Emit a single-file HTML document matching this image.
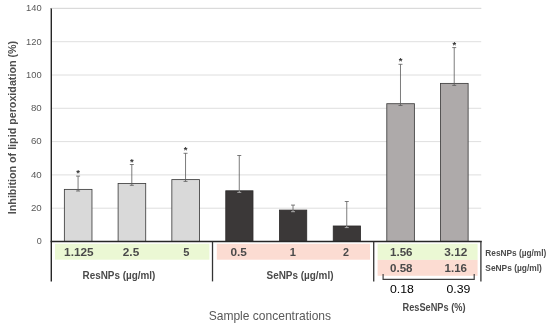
<!DOCTYPE html>
<html><head><meta charset="utf-8"><title>Inhibition of lipid peroxidation</title>
<style>
html,body{margin:0;padding:0;background:#fff;}
body{width:550px;height:329px;overflow:hidden;}
svg{display:block;font-family:"Liberation Sans",sans-serif;}
</style></head><body>
<svg width="550" height="329" viewBox="0 0 550 329">
<rect width="550" height="329" fill="#ffffff"/>

<line x1="51.3" y1="208.20" x2="481.2" y2="208.20" stroke="#d6d6d6" stroke-width="0.8"/>
<line x1="51.3" y1="174.90" x2="481.2" y2="174.90" stroke="#d6d6d6" stroke-width="0.8"/>
<line x1="51.3" y1="141.60" x2="481.2" y2="141.60" stroke="#d6d6d6" stroke-width="0.8"/>
<line x1="51.3" y1="108.30" x2="481.2" y2="108.30" stroke="#d6d6d6" stroke-width="0.8"/>
<line x1="51.3" y1="75.00" x2="481.2" y2="75.00" stroke="#d6d6d6" stroke-width="0.8"/>
<line x1="51.3" y1="41.70" x2="481.2" y2="41.70" stroke="#d6d6d6" stroke-width="0.8"/>
<line x1="51.3" y1="8.40" x2="481.2" y2="8.40" stroke="#d6d6d6" stroke-width="0.8"/>
<rect x="55.0" y="243.8" width="154.4" height="15.9" fill="#ebf8d4"/>
<rect x="216.8" y="243.8" width="153.2" height="15.9" fill="#fcdcd2"/>
<rect x="377.6" y="243.8" width="100" height="16.1" fill="#ebf8d4"/>
<rect x="377.6" y="259.9" width="100" height="15.9" fill="#fcdcd2"/>
<rect x="64.37" y="189.40" width="27.6" height="52.10" fill="#d9d9d9" stroke="#3f3f3f" stroke-width="0.85"/>
<line x1="78.07" y1="176.10" x2="78.07" y2="189.40" stroke="#5a5a5a" stroke-width="0.8"/>
<line x1="78.07" y1="189.40" x2="78.07" y2="191.00" stroke="#5a5a5a" stroke-width="0.8"/>
<line x1="76.07" y1="176.10" x2="80.07" y2="176.10" stroke="#5a5a5a" stroke-width="0.8"/>
<line x1="76.07" y1="191.00" x2="80.07" y2="191.00" stroke="#5a5a5a" stroke-width="0.8"/>
<text x="78.07" y="176.20" font-size="9.5" font-weight="bold" fill="#333" text-anchor="middle">*</text>
<rect x="118.11" y="183.50" width="27.6" height="58.00" fill="#d9d9d9" stroke="#3f3f3f" stroke-width="0.85"/>
<line x1="131.81" y1="164.50" x2="131.81" y2="183.50" stroke="#5a5a5a" stroke-width="0.8"/>
<line x1="131.81" y1="183.50" x2="131.81" y2="185.30" stroke="#5a5a5a" stroke-width="0.8"/>
<line x1="129.81" y1="164.50" x2="133.81" y2="164.50" stroke="#5a5a5a" stroke-width="0.8"/>
<line x1="129.81" y1="185.30" x2="133.81" y2="185.30" stroke="#5a5a5a" stroke-width="0.8"/>
<text x="131.81" y="164.60" font-size="9.5" font-weight="bold" fill="#333" text-anchor="middle">*</text>
<rect x="171.84" y="179.60" width="27.6" height="61.90" fill="#d9d9d9" stroke="#3f3f3f" stroke-width="0.85"/>
<line x1="185.54" y1="153.30" x2="185.54" y2="179.60" stroke="#5a5a5a" stroke-width="0.8"/>
<line x1="185.54" y1="179.60" x2="185.54" y2="181.40" stroke="#5a5a5a" stroke-width="0.8"/>
<line x1="183.54" y1="153.30" x2="187.54" y2="153.30" stroke="#5a5a5a" stroke-width="0.8"/>
<line x1="183.54" y1="181.40" x2="187.54" y2="181.40" stroke="#5a5a5a" stroke-width="0.8"/>
<text x="185.54" y="152.90" font-size="9.5" font-weight="bold" fill="#333" text-anchor="middle">*</text>
<rect x="225.78" y="190.80" width="27.2" height="50.70" fill="#3b3838" stroke="#2e2c2c" stroke-width="0.85"/>
<line x1="239.28" y1="155.50" x2="239.28" y2="190.80" stroke="#5a5a5a" stroke-width="0.8"/>
<line x1="239.28" y1="190.80" x2="239.28" y2="192.40" stroke="#bfbfbf" stroke-width="0.8"/>
<line x1="237.28" y1="155.50" x2="241.28" y2="155.50" stroke="#5a5a5a" stroke-width="0.8"/>
<line x1="237.28" y1="192.40" x2="241.28" y2="192.40" stroke="#bfbfbf" stroke-width="0.8"/>
<rect x="279.52" y="210.10" width="27.2" height="31.40" fill="#3b3838" stroke="#2e2c2c" stroke-width="0.85"/>
<line x1="293.02" y1="205.10" x2="293.02" y2="210.10" stroke="#5a5a5a" stroke-width="0.8"/>
<line x1="293.02" y1="210.10" x2="293.02" y2="211.70" stroke="#bfbfbf" stroke-width="0.8"/>
<line x1="291.02" y1="205.10" x2="295.02" y2="205.10" stroke="#5a5a5a" stroke-width="0.8"/>
<line x1="291.02" y1="211.70" x2="295.02" y2="211.70" stroke="#bfbfbf" stroke-width="0.8"/>
<rect x="333.26" y="226.00" width="27.2" height="15.50" fill="#3b3838" stroke="#2e2c2c" stroke-width="0.85"/>
<line x1="346.76" y1="201.50" x2="346.76" y2="226.00" stroke="#5a5a5a" stroke-width="0.8"/>
<line x1="346.76" y1="226.00" x2="346.76" y2="227.60" stroke="#bfbfbf" stroke-width="0.8"/>
<line x1="344.76" y1="201.50" x2="348.76" y2="201.50" stroke="#5a5a5a" stroke-width="0.8"/>
<line x1="344.76" y1="227.60" x2="348.76" y2="227.60" stroke="#bfbfbf" stroke-width="0.8"/>
<rect x="386.79" y="103.70" width="27.6" height="137.80" fill="#aeaaaa" stroke="#3f3f3f" stroke-width="0.85"/>
<line x1="400.49" y1="64.30" x2="400.49" y2="103.70" stroke="#5a5a5a" stroke-width="0.8"/>
<line x1="400.49" y1="103.70" x2="400.49" y2="105.50" stroke="#5a5a5a" stroke-width="0.8"/>
<line x1="398.49" y1="64.30" x2="402.49" y2="64.30" stroke="#5a5a5a" stroke-width="0.8"/>
<line x1="398.49" y1="105.50" x2="402.49" y2="105.50" stroke="#5a5a5a" stroke-width="0.8"/>
<text x="400.49" y="64.10" font-size="9.5" font-weight="bold" fill="#333" text-anchor="middle">*</text>
<rect x="440.53" y="83.40" width="27.6" height="158.10" fill="#aeaaaa" stroke="#3f3f3f" stroke-width="0.85"/>
<line x1="454.23" y1="47.60" x2="454.23" y2="83.40" stroke="#5a5a5a" stroke-width="0.8"/>
<line x1="454.23" y1="83.40" x2="454.23" y2="85.40" stroke="#5a5a5a" stroke-width="0.8"/>
<line x1="452.23" y1="47.60" x2="456.23" y2="47.60" stroke="#5a5a5a" stroke-width="0.8"/>
<line x1="452.23" y1="85.40" x2="456.23" y2="85.40" stroke="#5a5a5a" stroke-width="0.8"/>
<text x="454.23" y="47.60" font-size="9.5" font-weight="bold" fill="#333" text-anchor="middle">*</text>
<line x1="51.3" y1="8" x2="51.3" y2="281.5" stroke="#262626" stroke-width="1.4"/>
<line x1="50.599999999999994" y1="241.5" x2="481.8" y2="241.5" stroke="#262626" stroke-width="1.5"/>
<line x1="212.51" y1="241.5" x2="212.51" y2="281.4" stroke="#333333" stroke-width="1.3"/>
<line x1="373.72" y1="241.5" x2="373.72" y2="281.4" stroke="#333333" stroke-width="1.3"/>
<line x1="480.90" y1="241.5" x2="480.90" y2="281.4" stroke="#333333" stroke-width="1.3"/>
<line x1="51.3" y1="8.40" x2="481.2" y2="8.40" stroke="#d6d6d6" stroke-width="0.8"/>
<text x="41.7" y="244.30" font-size="8.6" fill="#595959" text-anchor="end" textLength="5.0" lengthAdjust="spacingAndGlyphs">0</text>
<text x="41.7" y="211.00" font-size="8.6" fill="#595959" text-anchor="end" textLength="10.8" lengthAdjust="spacingAndGlyphs">20</text>
<text x="41.7" y="177.70" font-size="8.6" fill="#595959" text-anchor="end" textLength="10.8" lengthAdjust="spacingAndGlyphs">40</text>
<text x="41.7" y="144.40" font-size="8.6" fill="#595959" text-anchor="end" textLength="10.8" lengthAdjust="spacingAndGlyphs">60</text>
<text x="41.7" y="111.10" font-size="8.6" fill="#595959" text-anchor="end" textLength="10.8" lengthAdjust="spacingAndGlyphs">80</text>
<text x="41.7" y="77.80" font-size="8.6" fill="#595959" text-anchor="end" textLength="15.6" lengthAdjust="spacingAndGlyphs">100</text>
<text x="41.7" y="44.50" font-size="8.6" fill="#595959" text-anchor="end" textLength="15.6" lengthAdjust="spacingAndGlyphs">120</text>
<text x="41.7" y="11.20" font-size="8.6" fill="#595959" text-anchor="end" textLength="15.6" lengthAdjust="spacingAndGlyphs">140</text>
<text transform="translate(16.1,214.2) rotate(-90)" font-size="10.2" font-weight="bold" fill="#4f4f4f" textLength="173.4" lengthAdjust="spacingAndGlyphs">Inhibition of lipid peroxidation (%)</text>
<text x="64.10" y="256.0" font-size="11.2" font-weight="bold" fill="#4a4a4a" textLength="29.5" lengthAdjust="spacingAndGlyphs">1.125</text>
<text x="122.80" y="256.0" font-size="11.2" font-weight="bold" fill="#4a4a4a" textLength="16.4" lengthAdjust="spacingAndGlyphs">2.5</text>
<text x="183.30" y="256.0" font-size="11.2" font-weight="bold" fill="#4a4a4a" textLength="6.2" lengthAdjust="spacingAndGlyphs">5</text>
<text x="230.50" y="256.0" font-size="11.2" font-weight="bold" fill="#4a4a4a" textLength="16.4" lengthAdjust="spacingAndGlyphs">0.5</text>
<text x="289.80" y="256.0" font-size="11.2" font-weight="bold" fill="#4a4a4a" textLength="6.2" lengthAdjust="spacingAndGlyphs">1</text>
<text x="342.90" y="256.0" font-size="11.2" font-weight="bold" fill="#4a4a4a" textLength="6.0" lengthAdjust="spacingAndGlyphs">2</text>
<text x="390.05" y="255.8" font-size="10.4" font-weight="bold" fill="#4a4a4a" textLength="22.5" lengthAdjust="spacingAndGlyphs">1.56</text>
<text x="444.30" y="255.8" font-size="10.4" font-weight="bold" fill="#4a4a4a" textLength="23.0" lengthAdjust="spacingAndGlyphs">3.12</text>
<text x="390.05" y="271.8" font-size="10.4" font-weight="bold" fill="#4a4a4a" textLength="22.5" lengthAdjust="spacingAndGlyphs">0.58</text>
<text x="444.55" y="271.8" font-size="10.4" font-weight="bold" fill="#4a4a4a" textLength="22.5" lengthAdjust="spacingAndGlyphs">1.16</text>
<text x="390.05" y="292.5" font-size="11.2" fill="#000" textLength="23.9" lengthAdjust="spacingAndGlyphs">0.18</text>
<text x="446.55" y="292.5" font-size="11.2" fill="#000" textLength="23.9" lengthAdjust="spacingAndGlyphs">0.39</text>
<text x="82.50" y="278.9" font-size="10.3" font-weight="bold" fill="#4a4a4a" textLength="72.9" lengthAdjust="spacingAndGlyphs">ResNPs (µg/ml)</text>
<text x="266.50" y="278.9" font-size="10.3" font-weight="bold" fill="#4a4a4a" textLength="67.0" lengthAdjust="spacingAndGlyphs">SeNPs (µg/ml)</text>
<text x="402.55" y="310.9" font-size="10.3" font-weight="bold" fill="#4a4a4a" textLength="62.9" lengthAdjust="spacingAndGlyphs">ResSeNPs (%)</text>
<text x="485.30" y="255.5" font-size="8.3" font-weight="bold" fill="#4a4a4a" textLength="61.0" lengthAdjust="spacingAndGlyphs">ResNPs (µg/ml)</text>
<text x="485.30" y="271.0" font-size="8.3" font-weight="bold" fill="#4a4a4a" textLength="56.6" lengthAdjust="spacingAndGlyphs">SeNPs (µg/ml)</text>
<path d="M383.1 274.0 V279.4 H474.2 V274.0" fill="none" stroke="#404040" stroke-width="1.2"/>
<text x="208.7" y="320.4" font-size="11.9" fill="#595959" textLength="122.4" lengthAdjust="spacingAndGlyphs">Sample concentrations</text>
</svg></body></html>
